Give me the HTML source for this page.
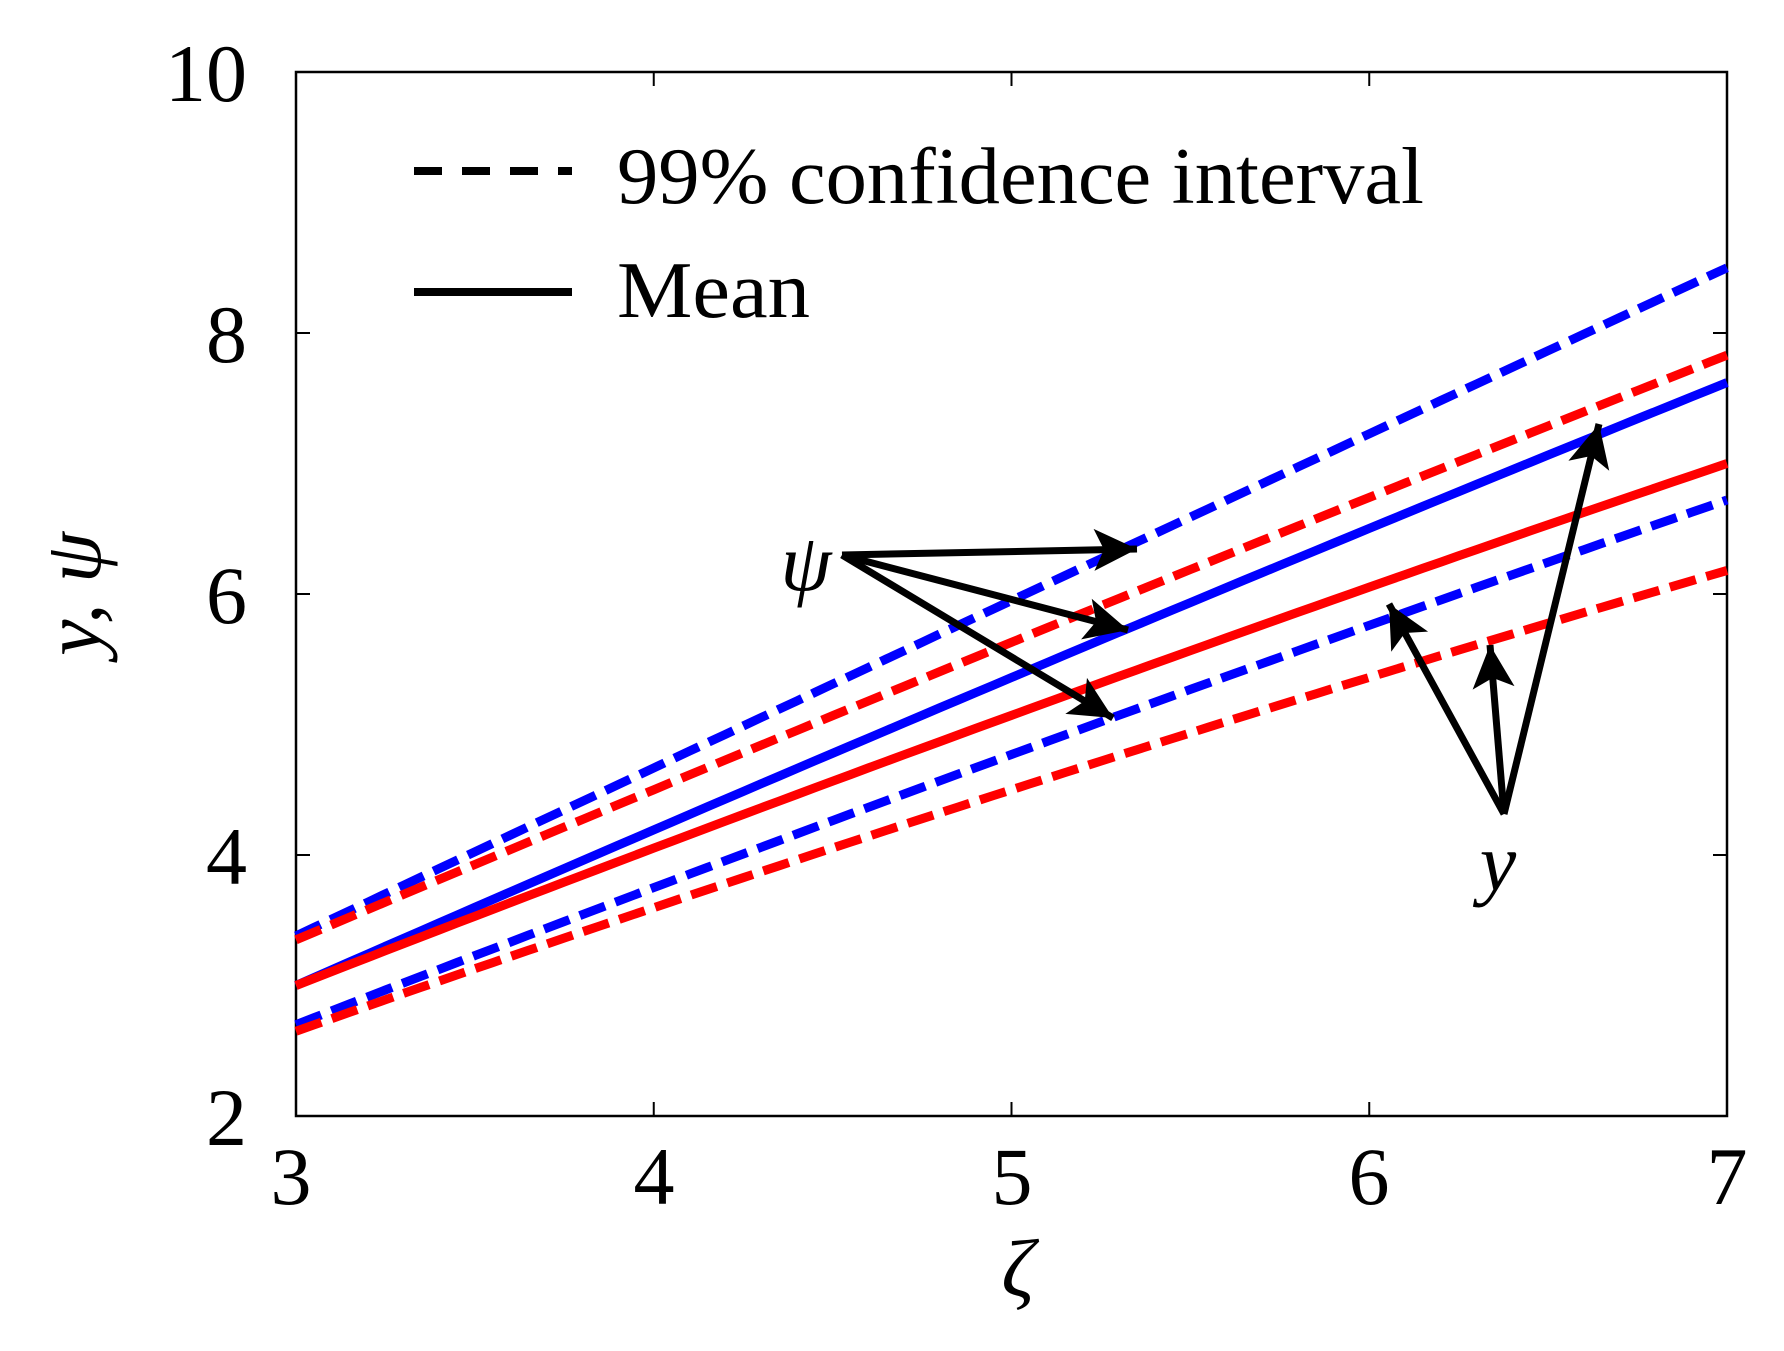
<!DOCTYPE html>
<html><head><meta charset="utf-8"><style>
html,body{margin:0;padding:0;background:#fff}
svg text{font-family:"Liberation Serif",serif;fill:#000}
</style></head><body>
<svg id="s" width="1784" height="1346" viewBox="0 0 1784 1346" xmlns="http://www.w3.org/2000/svg">
<defs>
<marker id="ah" viewBox="-50 -30 60 60" refX="0" refY="0" markerWidth="60" markerHeight="60" markerUnits="userSpaceOnUse" orient="auto" style="overflow:visible">
<path d="M-43,-21 L0,0 L-43,21 L-33,0 Z" fill="#000"/>
</marker>
</defs>
<rect x="296" y="72" width="1431" height="1044" fill="none" stroke="#000" stroke-width="2.5"/>
<g id="ticks" stroke="#000" stroke-width="2"></g>
<g id="lines" fill="none"></g>
<g font-size="82" text-anchor="end">
<text x="247" y="101">10</text>
<text x="247" y="362">8</text>
<text x="247" y="623">6</text>
<text x="247" y="884">4</text>
<text x="247" y="1145">2</text>
</g>
<g font-size="82" text-anchor="middle">
<text x="291" y="1204">3</text>
<text x="654" y="1204">4</text>
<text x="1012" y="1204">5</text>
<text x="1369" y="1204">6</text>
<text x="1727" y="1204">7</text>
</g>
<text x="1018" y="1296" font-size="82" font-style="italic" text-anchor="middle">ζ</text>
<text transform="translate(100,594) rotate(-90)" font-size="82" font-style="italic" text-anchor="middle">y, ψ</text>
<line x1="414" y1="171" x2="572" y2="171" stroke="#000" stroke-width="8" stroke-dasharray="28 20"/>
<line x1="414" y1="292" x2="572" y2="292" stroke="#000" stroke-width="8"/>
<text x="617" y="203" font-size="80" textLength="807" lengthAdjust="spacingAndGlyphs">99% confidence interval</text>
<text x="617" y="317" font-size="80" textLength="193" lengthAdjust="spacingAndGlyphs">Mean</text>
<g stroke="#000" stroke-width="7" marker-end="url(#ah)">
<line x1="842" y1="555" x2="1137" y2="549"/>
<line x1="842" y1="555" x2="1128" y2="630"/>
<line x1="842" y1="555" x2="1113" y2="718"/>
<line x1="1504" y1="814" x2="1389" y2="604"/>
<line x1="1504" y1="814" x2="1490" y2="645"/>
<line x1="1504" y1="814" x2="1599" y2="424"/>
</g>
<text x="806" y="590" font-size="82" font-style="italic" text-anchor="middle">ψ</text>
<text x="1498" y="890" font-size="82" font-style="italic" text-anchor="middle">y</text>
</svg>
<script>
var X=v=>296+(v-3)*357.75, Y=v=>1116-(v-2)*130.5;
var t=document.getElementById('ticks'),h='';
for(var i=4;i<=6;i++){h+='<line x1="'+X(i)+'" y1="1116" x2="'+X(i)+'" y2="1102"/><line x1="'+X(i)+'" y1="72" x2="'+X(i)+'" y2="86"/>';}
for(var j=4;j<=8;j+=2){h+='<line x1="296" y1="'+Y(j)+'" x2="310" y2="'+Y(j)+'"/><line x1="1727" y1="'+Y(j)+'" x2="1713" y2="'+Y(j)+'"/>';}
t.innerHTML=h;
var S=[[3.38,5.95,8.5,'#00f',1],[3.35,5.63,7.83,'#f00',1],[3.0,5.36,7.62,'#00f',0],[3.0,5.07,7.0,'#f00',0],[2.7,4.77,6.72,'#00f',1],[2.65,4.5,6.18,'#f00',1]];
var g='';
S.forEach(function(s){var a=s[0],b=s[1],c=s[2];var p=[];
for(var k=0;k<=80;k++){var x=3+4*k/80,u=(x-5)/2;var y=b+u*(c-a)/2+u*u*((a+c)/2-b);p.push(X(x).toFixed(1)+','+Y(y).toFixed(1));}
g+='<polyline points="'+p.join(' ')+'" stroke="'+s[3]+'" stroke-width="9"'+(s[4]?' stroke-dasharray="27 11"':'')+'/>';});
document.getElementById('lines').innerHTML=g;
</script>
</body></html>
